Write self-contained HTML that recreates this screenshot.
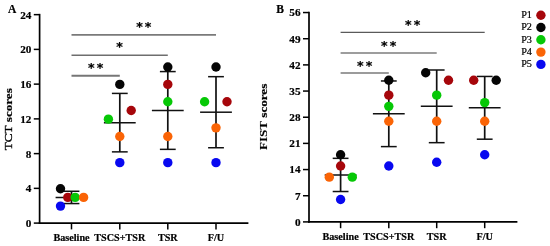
<!DOCTYPE html>
<html><head><meta charset="utf-8"><title>TCT and FIST scores</title>
<style>
html,body{margin:0;padding:0;background:#fff;}
body{width:550px;height:246px;overflow:hidden;position:relative;}
svg{position:absolute;left:0;top:0;display:block;}
svg{font-family:"Liberation Serif", serif;} text{fill:#000;stroke:#000;stroke-width:0.2px;} .st{font-family:"DejaVu Sans", sans-serif;}
</style></head>
<body>
<svg width="550" height="246" viewBox="0 0 550 246">
<line x1="39.60" y1="13.85" x2="39.60" y2="223.90" stroke="#000" stroke-width="1.7"/>
<line x1="38.75" y1="223.10" x2="248.40" y2="223.10" stroke="#000" stroke-width="1.7"/>
<line x1="33.80" y1="223.10" x2="39.60" y2="223.10" stroke="#000" stroke-width="1.5"/>
<text x="31.40" y="227.00" font-size="11.2" font-weight="bold" text-anchor="end" >0</text>
<line x1="33.80" y1="188.36" x2="39.60" y2="188.36" stroke="#000" stroke-width="1.5"/>
<text x="31.40" y="192.26" font-size="11.2" font-weight="bold" text-anchor="end" >4</text>
<line x1="33.80" y1="153.62" x2="39.60" y2="153.62" stroke="#000" stroke-width="1.5"/>
<text x="31.40" y="157.52" font-size="11.2" font-weight="bold" text-anchor="end" >8</text>
<line x1="33.80" y1="118.88" x2="39.60" y2="118.88" stroke="#000" stroke-width="1.5"/>
<text x="31.40" y="122.78" font-size="11.2" font-weight="bold" text-anchor="end" >12</text>
<line x1="33.80" y1="84.13" x2="39.60" y2="84.13" stroke="#000" stroke-width="1.5"/>
<text x="31.40" y="88.03" font-size="11.2" font-weight="bold" text-anchor="end" >16</text>
<line x1="33.80" y1="49.39" x2="39.60" y2="49.39" stroke="#000" stroke-width="1.5"/>
<text x="31.40" y="53.29" font-size="11.2" font-weight="bold" text-anchor="end" >20</text>
<line x1="33.80" y1="14.65" x2="39.60" y2="14.65" stroke="#000" stroke-width="1.5"/>
<text x="31.40" y="18.55" font-size="11.2" font-weight="bold" text-anchor="end" >24</text>
<line x1="71.50" y1="223.10" x2="71.50" y2="229.40" stroke="#000" stroke-width="1.5"/>
<text x="71.50" y="240.60" font-size="10.2" font-weight="bold" text-anchor="middle" >Baseline</text>
<line x1="119.80" y1="223.10" x2="119.80" y2="229.40" stroke="#000" stroke-width="1.5"/>
<text x="119.80" y="240.60" font-size="10.2" font-weight="bold" text-anchor="middle" >TSCS+TSR</text>
<line x1="167.80" y1="223.10" x2="167.80" y2="229.40" stroke="#000" stroke-width="1.5"/>
<text x="167.80" y="240.60" font-size="10.2" font-weight="bold" text-anchor="middle" >TSR</text>
<line x1="216.00" y1="223.10" x2="216.00" y2="229.40" stroke="#000" stroke-width="1.5"/>
<text x="216.00" y="240.60" font-size="10.2" font-weight="bold" text-anchor="middle" >F/U</text>
<line x1="71.50" y1="34.90" x2="216.00" y2="34.90" stroke="#7a7a7a" stroke-width="1.7"/>
<text x="144.75" y="31.20" class="st" font-weight="bold" font-size="12.6" letter-spacing="2.0" text-anchor="middle">**</text>
<line x1="71.50" y1="55.20" x2="167.80" y2="55.20" stroke="#6e6e6e" stroke-width="1.6"/>
<text x="119.65" y="51.00" class="st" font-weight="bold" font-size="12.6" letter-spacing="0" text-anchor="middle">*</text>
<line x1="71.50" y1="75.75" x2="119.80" y2="75.75" stroke="#767676" stroke-width="1.8"/>
<text x="96.65" y="72.00" class="st" font-weight="bold" font-size="12.6" letter-spacing="2.0" text-anchor="middle">**</text>
<line x1="71.50" y1="191.27" x2="71.50" y2="203.56" stroke="#111" stroke-width="1.7"/>
<line x1="63.60" y1="191.27" x2="79.40" y2="191.27" stroke="#111" stroke-width="1.5"/>
<line x1="63.60" y1="203.56" x2="79.40" y2="203.56" stroke="#111" stroke-width="1.5"/>
<line x1="55.60" y1="197.41" x2="87.40" y2="197.41" stroke="#111" stroke-width="1.5"/>
<line x1="119.80" y1="93.41" x2="119.80" y2="151.87" stroke="#111" stroke-width="1.7"/>
<line x1="111.90" y1="93.41" x2="127.70" y2="93.41" stroke="#111" stroke-width="1.5"/>
<line x1="111.90" y1="151.87" x2="127.70" y2="151.87" stroke="#111" stroke-width="1.5"/>
<line x1="103.90" y1="122.64" x2="135.70" y2="122.64" stroke="#111" stroke-width="1.5"/>
<line x1="167.80" y1="71.58" x2="167.80" y2="149.35" stroke="#111" stroke-width="1.7"/>
<line x1="159.90" y1="71.58" x2="175.70" y2="71.58" stroke="#111" stroke-width="1.5"/>
<line x1="159.90" y1="149.35" x2="175.70" y2="149.35" stroke="#111" stroke-width="1.5"/>
<line x1="151.90" y1="110.47" x2="183.70" y2="110.47" stroke="#111" stroke-width="1.5"/>
<line x1="216.00" y1="76.67" x2="216.00" y2="147.74" stroke="#111" stroke-width="1.7"/>
<line x1="208.10" y1="76.67" x2="223.90" y2="76.67" stroke="#111" stroke-width="1.5"/>
<line x1="208.10" y1="147.74" x2="223.90" y2="147.74" stroke="#111" stroke-width="1.5"/>
<line x1="200.10" y1="112.20" x2="231.90" y2="112.20" stroke="#111" stroke-width="1.5"/>
<circle cx="60.50" cy="188.72" r="4.7" fill="#050505"/>
<circle cx="60.50" cy="206.11" r="4.7" fill="#0808F0"/>
<circle cx="67.80" cy="197.41" r="4.7" fill="#A6060B"/>
<circle cx="75.20" cy="197.41" r="4.7" fill="#06C806"/>
<circle cx="83.60" cy="197.41" r="4.7" fill="#FA6406"/>
<circle cx="131.20" cy="110.47" r="4.7" fill="#A6060B"/>
<circle cx="119.80" cy="84.38" r="4.7" fill="#050505"/>
<circle cx="108.40" cy="119.16" r="4.7" fill="#06C806"/>
<circle cx="119.80" cy="136.55" r="4.7" fill="#FA6406"/>
<circle cx="119.80" cy="162.63" r="4.7" fill="#0808F0"/>
<circle cx="167.80" cy="84.38" r="4.7" fill="#A6060B"/>
<circle cx="167.80" cy="66.99" r="4.7" fill="#050505"/>
<circle cx="167.80" cy="101.77" r="4.7" fill="#06C806"/>
<circle cx="167.80" cy="136.55" r="4.7" fill="#FA6406"/>
<circle cx="167.80" cy="162.63" r="4.7" fill="#0808F0"/>
<circle cx="227.00" cy="101.77" r="4.7" fill="#A6060B"/>
<circle cx="216.00" cy="66.99" r="4.7" fill="#050505"/>
<circle cx="204.60" cy="101.77" r="4.7" fill="#06C806"/>
<circle cx="216.00" cy="127.85" r="4.7" fill="#FA6406"/>
<circle cx="216.00" cy="162.63" r="4.7" fill="#0808F0"/>
<text transform="translate(12.30,119.20) rotate(-90) scale(1.17,1)" font-size="11.2" text-anchor="middle"><tspan font-weight="normal" style="stroke-width:0.35px">TCT</tspan> <tspan font-weight="bold">scores</tspan></text>
<text x="7.90" y="12.60" font-size="11.5" font-weight="bold" text-anchor="start" >A</text>
<line x1="309.00" y1="11.75" x2="309.00" y2="222.70" stroke="#000" stroke-width="1.7"/>
<line x1="308.15" y1="221.90" x2="517.40" y2="221.90" stroke="#000" stroke-width="1.7"/>
<line x1="303.00" y1="221.90" x2="309.00" y2="221.90" stroke="#000" stroke-width="1.5"/>
<text x="300.50" y="225.80" font-size="11.2" font-weight="bold" text-anchor="end" >0</text>
<line x1="303.00" y1="195.73" x2="309.00" y2="195.73" stroke="#000" stroke-width="1.5"/>
<text x="300.50" y="199.63" font-size="11.2" font-weight="bold" text-anchor="end" >7</text>
<line x1="303.00" y1="169.56" x2="309.00" y2="169.56" stroke="#000" stroke-width="1.5"/>
<text x="300.50" y="173.46" font-size="11.2" font-weight="bold" text-anchor="end" >14</text>
<line x1="303.00" y1="143.39" x2="309.00" y2="143.39" stroke="#000" stroke-width="1.5"/>
<text x="300.50" y="147.29" font-size="11.2" font-weight="bold" text-anchor="end" >21</text>
<line x1="303.00" y1="117.23" x2="309.00" y2="117.23" stroke="#000" stroke-width="1.5"/>
<text x="300.50" y="121.13" font-size="11.2" font-weight="bold" text-anchor="end" >28</text>
<line x1="303.00" y1="91.06" x2="309.00" y2="91.06" stroke="#000" stroke-width="1.5"/>
<text x="300.50" y="94.96" font-size="11.2" font-weight="bold" text-anchor="end" >35</text>
<line x1="303.00" y1="64.89" x2="309.00" y2="64.89" stroke="#000" stroke-width="1.5"/>
<text x="300.50" y="68.79" font-size="11.2" font-weight="bold" text-anchor="end" >42</text>
<line x1="303.00" y1="38.72" x2="309.00" y2="38.72" stroke="#000" stroke-width="1.5"/>
<text x="300.50" y="42.62" font-size="11.2" font-weight="bold" text-anchor="end" >49</text>
<line x1="303.00" y1="12.55" x2="309.00" y2="12.55" stroke="#000" stroke-width="1.5"/>
<text x="300.50" y="16.45" font-size="11.2" font-weight="bold" text-anchor="end" >56</text>
<line x1="340.60" y1="221.90" x2="340.60" y2="228.20" stroke="#000" stroke-width="1.5"/>
<text x="340.60" y="239.50" font-size="10.2" font-weight="bold" text-anchor="middle" >Baseline</text>
<line x1="388.80" y1="221.90" x2="388.80" y2="228.20" stroke="#000" stroke-width="1.5"/>
<text x="388.80" y="239.50" font-size="10.2" font-weight="bold" text-anchor="middle" >TSCS+TSR</text>
<line x1="436.70" y1="221.90" x2="436.70" y2="228.20" stroke="#000" stroke-width="1.5"/>
<text x="436.70" y="239.50" font-size="10.2" font-weight="bold" text-anchor="middle" >TSR</text>
<line x1="484.70" y1="221.90" x2="484.70" y2="228.20" stroke="#000" stroke-width="1.5"/>
<text x="484.70" y="239.50" font-size="10.2" font-weight="bold" text-anchor="middle" >F/U</text>
<line x1="340.60" y1="32.35" x2="484.70" y2="32.35" stroke="#5a5a5a" stroke-width="1.3"/>
<text x="413.65" y="29.30" class="st" font-weight="bold" font-size="12.6" letter-spacing="2.0" text-anchor="middle">**</text>
<line x1="340.60" y1="53.00" x2="436.70" y2="53.00" stroke="#7c7c7c" stroke-width="1.7"/>
<text x="389.65" y="49.60" class="st" font-weight="bold" font-size="12.6" letter-spacing="2.0" text-anchor="middle">**</text>
<line x1="340.60" y1="73.00" x2="388.80" y2="73.00" stroke="#7a7a7a" stroke-width="1.7"/>
<text x="365.70" y="70.00" class="st" font-weight="bold" font-size="12.6" letter-spacing="2.0" text-anchor="middle">**</text>
<line x1="340.60" y1="158.34" x2="340.60" y2="191.52" stroke="#111" stroke-width="1.7"/>
<line x1="332.70" y1="158.34" x2="348.50" y2="158.34" stroke="#111" stroke-width="1.5"/>
<line x1="332.70" y1="191.52" x2="348.50" y2="191.52" stroke="#111" stroke-width="1.5"/>
<line x1="324.70" y1="174.93" x2="356.50" y2="174.93" stroke="#111" stroke-width="1.5"/>
<line x1="388.80" y1="80.97" x2="388.80" y2="146.61" stroke="#111" stroke-width="1.7"/>
<line x1="380.90" y1="80.97" x2="396.70" y2="80.97" stroke="#111" stroke-width="1.5"/>
<line x1="380.90" y1="146.61" x2="396.70" y2="146.61" stroke="#111" stroke-width="1.5"/>
<line x1="372.90" y1="113.79" x2="404.70" y2="113.79" stroke="#111" stroke-width="1.5"/>
<line x1="436.70" y1="70.00" x2="436.70" y2="142.67" stroke="#111" stroke-width="1.7"/>
<line x1="428.80" y1="70.00" x2="444.60" y2="70.00" stroke="#111" stroke-width="1.5"/>
<line x1="428.80" y1="142.67" x2="444.60" y2="142.67" stroke="#111" stroke-width="1.5"/>
<line x1="420.80" y1="106.33" x2="452.60" y2="106.33" stroke="#111" stroke-width="1.5"/>
<line x1="484.70" y1="76.45" x2="484.70" y2="139.19" stroke="#111" stroke-width="1.7"/>
<line x1="476.80" y1="76.45" x2="492.60" y2="76.45" stroke="#111" stroke-width="1.5"/>
<line x1="476.80" y1="139.19" x2="492.60" y2="139.19" stroke="#111" stroke-width="1.5"/>
<line x1="468.80" y1="107.82" x2="500.60" y2="107.82" stroke="#111" stroke-width="1.5"/>
<circle cx="340.60" cy="165.98" r="4.7" fill="#A6060B"/>
<circle cx="340.60" cy="154.80" r="4.7" fill="#050505"/>
<circle cx="352.30" cy="177.16" r="4.7" fill="#06C806"/>
<circle cx="329.30" cy="177.16" r="4.7" fill="#FA6406"/>
<circle cx="340.60" cy="199.53" r="4.7" fill="#0808F0"/>
<circle cx="388.80" cy="95.15" r="4.7" fill="#A6060B"/>
<circle cx="388.80" cy="80.24" r="4.7" fill="#050505"/>
<circle cx="388.80" cy="106.33" r="4.7" fill="#06C806"/>
<circle cx="388.80" cy="121.24" r="4.7" fill="#FA6406"/>
<circle cx="388.80" cy="165.98" r="4.7" fill="#0808F0"/>
<circle cx="448.50" cy="80.24" r="4.7" fill="#A6060B"/>
<circle cx="425.70" cy="72.78" r="4.7" fill="#050505"/>
<circle cx="436.70" cy="95.15" r="4.7" fill="#06C806"/>
<circle cx="436.70" cy="121.24" r="4.7" fill="#FA6406"/>
<circle cx="436.70" cy="162.25" r="4.7" fill="#0808F0"/>
<circle cx="473.70" cy="80.24" r="4.7" fill="#A6060B"/>
<circle cx="496.20" cy="80.24" r="4.7" fill="#050505"/>
<circle cx="484.70" cy="102.60" r="4.7" fill="#06C806"/>
<circle cx="484.70" cy="121.24" r="4.7" fill="#FA6406"/>
<circle cx="484.70" cy="154.80" r="4.7" fill="#0808F0"/>
<text transform="translate(266.60,116.90) rotate(-90) scale(1.17,1)" font-size="11.2" text-anchor="middle"><tspan font-weight="bold" style="stroke-width:0.1px">FIST</tspan> <tspan font-weight="bold">scores</tspan></text>
<text x="276.30" y="12.60" font-size="11.5" font-weight="bold" text-anchor="start" >B</text>
<circle cx="540.90" cy="15.20" r="4.7" fill="#A6060B"/>
<text x="531.90" y="18.00" font-size="10.2" font-weight="normal" text-anchor="end" >P1</text>
<circle cx="540.90" cy="27.50" r="4.7" fill="#050505"/>
<text x="531.90" y="30.30" font-size="10.2" font-weight="normal" text-anchor="end" >P2</text>
<circle cx="540.90" cy="39.80" r="4.7" fill="#06C806"/>
<text x="531.90" y="42.60" font-size="10.2" font-weight="normal" text-anchor="end" >P3</text>
<circle cx="540.90" cy="52.10" r="4.7" fill="#FA6406"/>
<text x="531.90" y="54.90" font-size="10.2" font-weight="normal" text-anchor="end" >P4</text>
<circle cx="540.90" cy="64.40" r="4.7" fill="#0808F0"/>
<text x="531.90" y="67.20" font-size="10.2" font-weight="normal" text-anchor="end" >P5</text>
</svg>
</body></html>
